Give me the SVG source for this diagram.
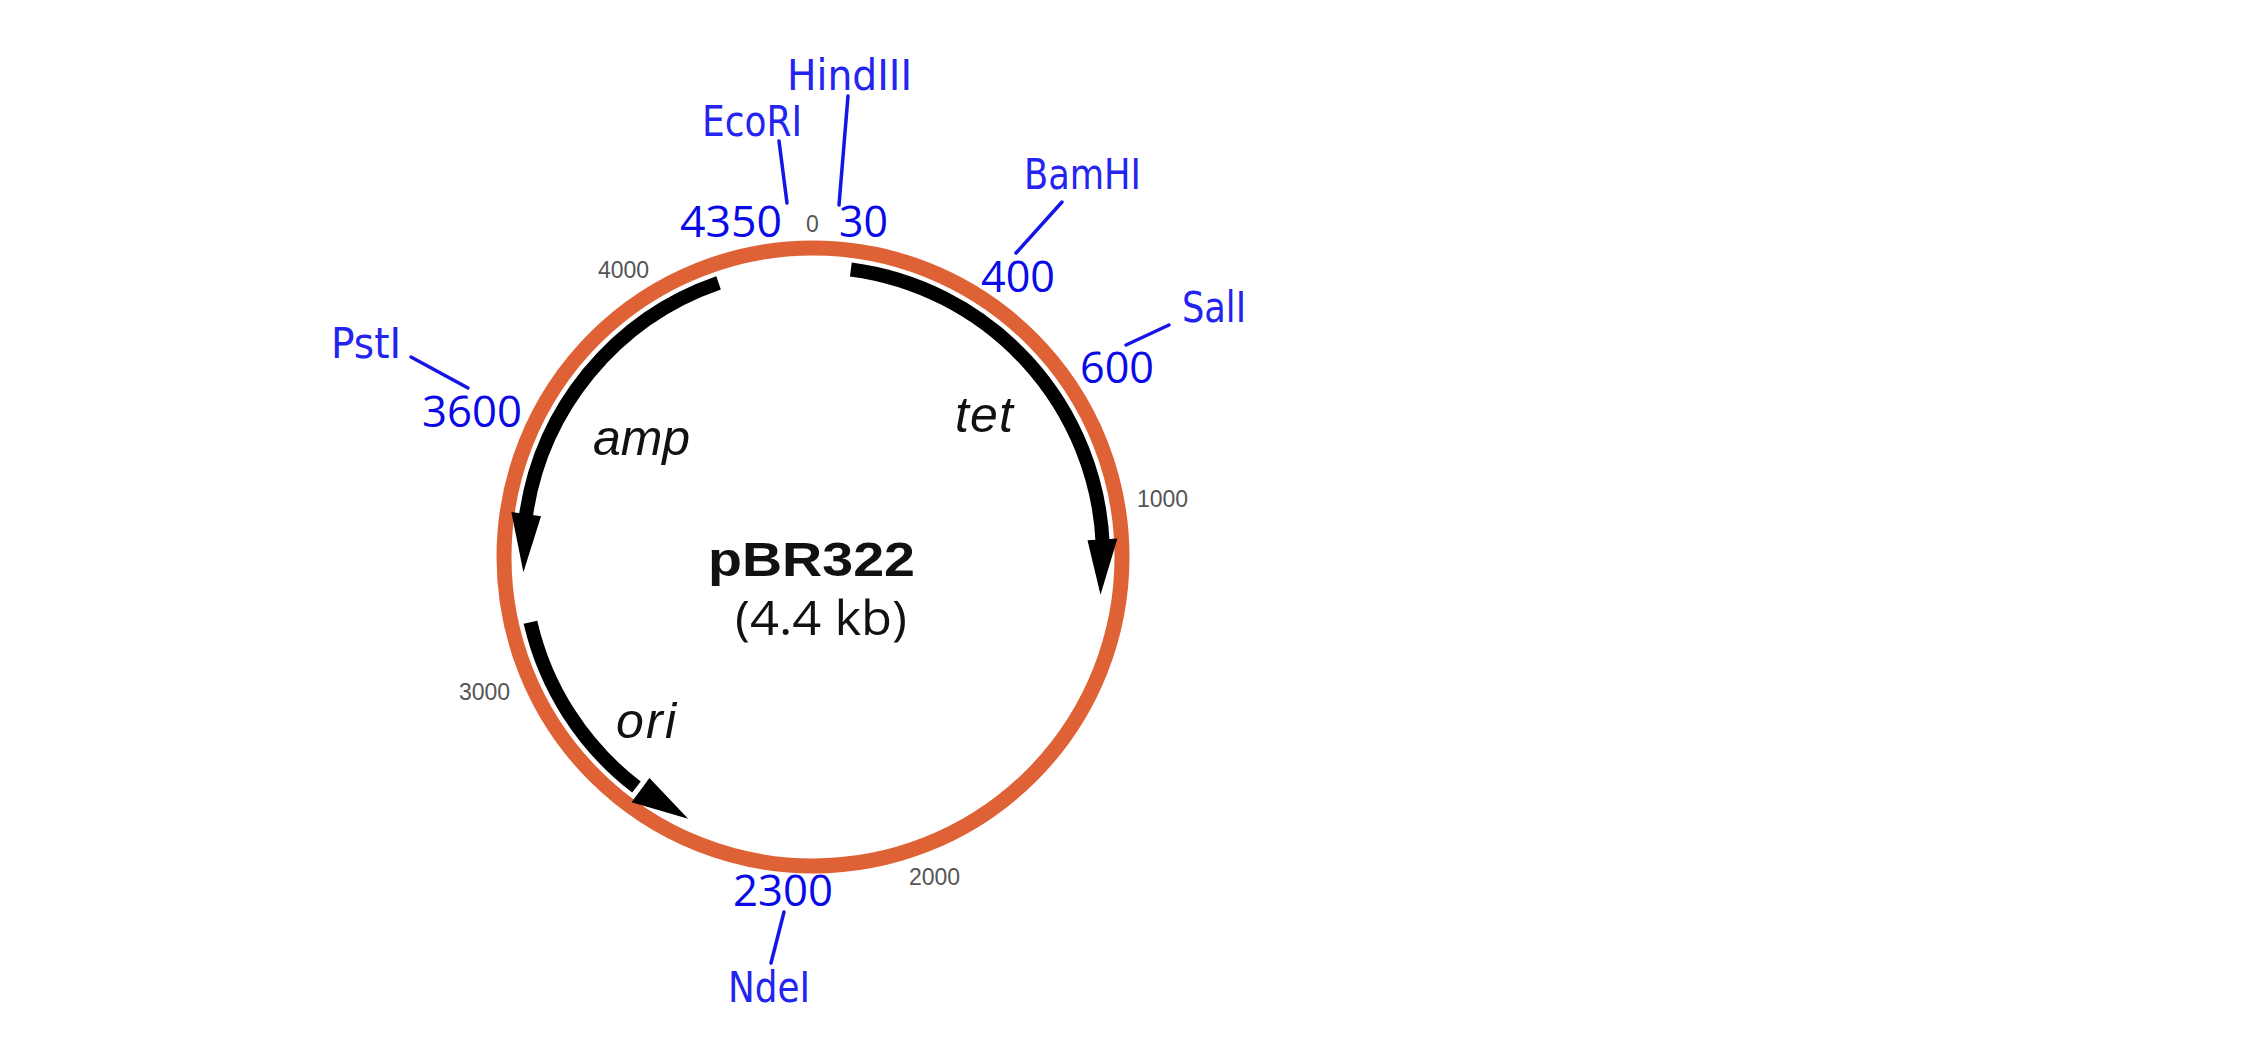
<svg xmlns="http://www.w3.org/2000/svg" width="2266" height="1040" viewBox="0 0 2266 1040">
<style>
.site{font-family:"DejaVu Sans Condensed","DejaVu Sans",sans-serif;font-size:42px;fill:#2424F0}
.pos{font-family:"Open Sans","Noto Sans",sans-serif;font-size:44px;fill:#0A0AE6}
.tick{font-family:"Liberation Sans",Arial,sans-serif;font-size:23px;fill:#555}
.gene{font-family:"Liberation Sans",Arial,sans-serif;font-size:50px;font-style:italic;fill:#111}
.title{font-family:"Liberation Sans",Arial,sans-serif;font-size:49px;font-weight:bold;fill:#111}
.size{font-family:"Open Sans","Noto Sans",sans-serif;font-size:48px;fill:#111}
.lead{stroke:#1515E8;stroke-width:3.5;fill:none;stroke-linecap:round}
.shaft{fill:none;stroke:#000;stroke-width:14}
.head{fill:#000}
</style>
<rect width="2266" height="1040" fill="#fff"/>
<g id="plasmid">
<circle cx="813" cy="557" r="309" fill="none" stroke="#DF6236" stroke-width="15"/>
</g>
<g id="tet">
<path class="shaft" d="M 850.85 269.48 A 290 290 0 0 1 1102.72 544.35"/>
<polygon class="head" points="1117.43,538.38 1087.49,540.21 1100.52,594.85"/>
<text class="gene" x="955" y="432" textLength="58">tet</text>
</g>
<g id="amp">
<path class="shaft" d="M 718.58 282.80 A 290 290 0 0 0 525.48 519.15"/>
<polygon class="head" points="511.35,511.92 541.02,516.35 523.40,572.18"/>
<text class="gene" x="593" y="455" textLength="97">amp</text>
</g>
<g id="ori">
<path class="shaft" d="M 530.43 622.24 A 290 290 0 0 0 636.46 787.07"/>
<polygon class="head" points="631.58,802.18 649.42,778.06 688.15,818.75"/>
<text class="gene" x="616" y="738" textLength="60">ori</text>
</g>
<g id="center-label">
<text class="title" x="708" y="576" textLength="207" lengthAdjust="spacingAndGlyphs">pBR322</text>
<text class="size" x="735" y="635" textLength="172" lengthAdjust="spacingAndGlyphs">(4.4 kb)</text>
</g>
<g id="ticks">
<text class="tick" x="806" y="232" font-size="20">0</text>
<text class="tick" x="598" y="278">4000</text>
<text class="tick" x="1137" y="507">1000</text>
<text class="tick" x="459" y="700">3000</text>
<text class="tick" x="909" y="885">2000</text>
</g>
<g id="connectors">
<line class="lead" x1="779" y1="141" x2="787" y2="203"/>
<line class="lead" x1="848" y1="96" x2="839" y2="205"/>
<line class="lead" x1="1062" y1="202" x2="1016" y2="253"/>
<line class="lead" x1="1169" y1="325" x2="1126" y2="345"/>
<line class="lead" x1="411" y1="357" x2="468" y2="388"/>
<line class="lead" x1="784" y1="912" x2="771" y2="963"/>
</g>
<g id="EcoRI">
<text class="site" x="702" y="136" textLength="100" lengthAdjust="spacingAndGlyphs">EcoRI</text>
<text class="pos" x="680" y="237" textLength="102" lengthAdjust="spacingAndGlyphs">4350</text>
</g>
<g id="HindIII">
<text class="site" x="787" y="90" textLength="125" lengthAdjust="spacingAndGlyphs">HindIII</text>
<text class="pos" x="839" y="237" textLength="49" lengthAdjust="spacingAndGlyphs">30</text>
</g>
<g id="BamHI">
<text class="site" x="1024" y="189" textLength="117" lengthAdjust="spacingAndGlyphs">BamHI</text>
<text class="pos" x="981" y="292" textLength="74" lengthAdjust="spacingAndGlyphs">400</text>
</g>
<g id="SalI">
<text class="site" x="1182" y="322" textLength="64" lengthAdjust="spacingAndGlyphs">SalI</text>
<text class="pos" x="1080" y="383" textLength="74" lengthAdjust="spacingAndGlyphs">600</text>
</g>
<g id="PstI">
<text class="site" x="331" y="358" textLength="70" lengthAdjust="spacingAndGlyphs">PstI</text>
<text class="pos" x="422" y="427" textLength="100" lengthAdjust="spacingAndGlyphs">3600</text>
</g>
<g id="NdeI">
<text class="pos" x="733" y="906" textLength="100" lengthAdjust="spacingAndGlyphs">2300</text>
<text class="site" x="728" y="1002" textLength="82" lengthAdjust="spacingAndGlyphs">NdeI</text>
</g>
</svg>
